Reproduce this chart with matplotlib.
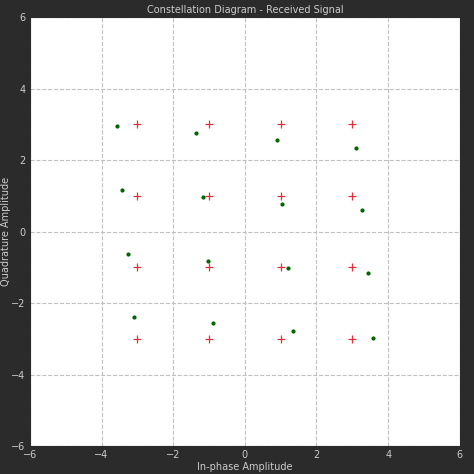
import matplotlib
matplotlib.use("Agg")
import matplotlib.pyplot as plt

ideal_i = [-3, -1, 1, 3] * 4
ideal_q = [3]*4 + [1]*4 + [-1]*4 + [-3]*4
rx_i = [-3.58, -1.37, 0.89, 3.10, -3.44, -1.17, 1.03, 3.27, -3.27, -1.03, 1.20, 3.44, -3.10, -0.89, 1.34, 3.58]
rx_q = [2.94, 2.77, 2.55, 2.35, 1.17, 0.98, 0.78, 0.59, -0.62, -0.81, -1.01, -1.17, -2.38, -2.57, -2.77, -2.97]
ticks = [-6, -4, -2, 0, 2, 4, 6]

fig = plt.figure(figsize=(4.74, 4.74), dpi=100, facecolor='#2b2b2b')
ax = fig.add_axes([0.063, 0.059, 0.907, 0.905])
ax.set_facecolor('white')
ax.scatter(ideal_i, ideal_q, marker='+', s=40, c='#e0303a', linewidths=0.9)
ax.scatter(rx_i, rx_q, marker='o', s=4, c='#006400')
ax.set_xlim(-6, 6); ax.set_ylim(-6, 6)
ax.set_xticks(ticks); ax.set_yticks(ticks)
ax.grid(True, linestyle='--', color='#c0c0c0', linewidth=0.8)
ax.tick_params(colors='#cccccc', labelsize=7, labelcolor='#cccccc', length=0, pad=3)
for s in ax.spines.values():
    s.set_color('#2b2b2b')
ax.set_title('Constellation Diagram - Received Signal', color='#cccccc', fontsize=7, pad=3)
ax.set_xlabel('In-phase Amplitude', color='#cccccc', fontsize=7, labelpad=1)
ax.set_ylabel('Quadrature Amplitude', color='#cccccc', fontsize=7, labelpad=0)
fig.savefig('out.png', dpi=100, facecolor=fig.get_facecolor())
